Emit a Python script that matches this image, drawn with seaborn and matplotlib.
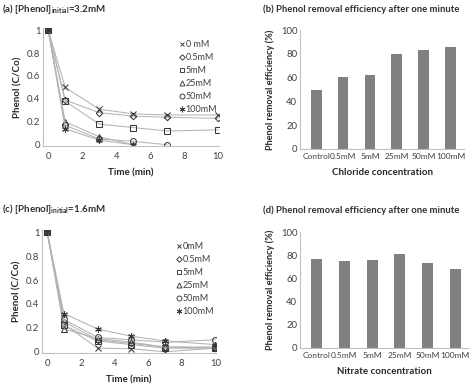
import numpy as np
import pandas as pd
import matplotlib
matplotlib.use("Agg")
import matplotlib.pyplot as plt
import seaborn as sns
from matplotlib.ticker import FuncFormatter
from matplotlib.lines import Line2D

sns.set_theme(style="white")
plt.rcParams['font.family'] = ['Lato', 'DejaVu Sans']

time = [0, 1, 3, 5, 7, 10]
labels_a = ["0 mM", "0.5mM", "5mM", "25mM", "50mM", "100mM"]
labels_c = ["0mM", "0.5mM", "5mM", "25mM", "50mM", "100mM"]
nan = np.nan
series_a = [
    [1, 0.50, 0.31, 0.27, 0.26, 0.26],
    [1, 0.39, 0.28, 0.25, 0.24, 0.23],
    [1, 0.38, 0.18, 0.15, 0.12, 0.13],
    [1, 0.20, 0.07, 0.00, nan, nan],
    [1, 0.17, 0.05, 0.03, 0.00, nan],
    [1, 0.14, 0.04, 0.00, nan, nan],
]
series_c = [
    [1, 0.23, 0.03, 0.025, 0.00, 0.03],
    [1, 0.25, 0.10, 0.07, 0.04, 0.03],
    [1, 0.22, 0.09, 0.06, 0.03, 0.03],
    [1, 0.19, 0.11, 0.08, 0.04, 0.04],
    [1, 0.27, 0.12, 0.10, 0.08, 0.10],
    [1, 0.32, 0.19, 0.13, 0.09, 0.06],
]
categories = ["Control", "0.5mM", "5mM", "25mM", "50mM", "100mM"]
chloride = [50, 61, 62, 80, 83, 86]
nitrate = [77, 75, 76, 81, 73, 68]

markers = ['x', 'D', 's', '^', 'o', (6, 2, 0)]
msizes = [4.2, 3.3, 4.2, 4.2, 4.2, 4.8]

fig = plt.figure(figsize=(4.74, 3.87), dpi=100)

def style_axes(ax):
    for s in ['top', 'right']:
        ax.spines[s].set_visible(False)
    for s in ['left', 'bottom']:
        ax.spines[s].set_color('#bfbfbf')
        ax.spines[s].set_linewidth(0.8)
    ax.tick_params(axis='both', labelsize=6.8, colors='#404040', length=2.5,
                   width=0.6, pad=2, direction='out')
    ax.tick_params(axis='y', length=0)

def line_panel(rect, series, labels, title, title_y):
    ax = fig.add_axes(rect)
    proxies = []
    for vals, lab, m, ms in zip(series, labels, markers, msizes):
        df = pd.DataFrame({'t': time, 'v': vals}).dropna()
        fc = '#303030' if m == (6, 2, 0) else 'none'
        sns.lineplot(data=df, x='t', y='v', ax=ax, color='#b3b3b3', lw=0.75,
                     marker=m, markersize=ms, markerfacecolor=fc,
                     markeredgecolor='#383838', markeredgewidth=0.75)
        proxies.append(Line2D([], [], linestyle='none', marker=m,
                              markersize=ms * 0.85, markerfacecolor=fc,
                              markeredgecolor='#404040', markeredgewidth=0.7))
    ax.set_xlim(-0.3, 10.05)
    ax.set_ylim(-0.01, 1.02)
    ax.set_xticks([0, 2, 4, 6, 8, 10])
    ax.set_yticks([0, 0.2, 0.4, 0.6, 0.8, 1])
    ax.yaxis.set_major_formatter(FuncFormatter(lambda v, p: f"{v:g}"))
    ax.set_xlabel("Time (min)", fontsize=7, fontweight='bold', labelpad=5)
    ax.set_ylabel("Phenol (C/Co)", fontsize=7, fontweight='bold', labelpad=3)
    style_axes(ax)
    leg = ax.legend(proxies, labels, loc='upper right', bbox_to_anchor=(1.01, 0.93),
                    frameon=False, fontsize=6.5, handlelength=0.6,
                    handletextpad=0.1, labelspacing=0.45, borderaxespad=0)
    for t in leg.get_texts():
        t.set_color('#404040')
    fig.text(0.005, title_y, title, fontsize=7, fontweight='bold',
             color='#303030', va='center')
    return ax

def bar_panel(rect, values, xlabel, title, title_y):
    ax = fig.add_axes(rect)
    df = pd.DataFrame({'c': categories, 'v': values})
    sns.barplot(data=df, x='c', y='v', ax=ax, color='#808080', width=0.4,
                saturation=1, edgecolor='none')
    ax.set_ylim(0, 100)
    ax.set_yticks([0, 20, 40, 60, 80, 100])
    ax.set_xlim(-0.6, 5.5)
    ax.set_xlabel(xlabel, fontsize=7, fontweight='bold', labelpad=6)
    ax.set_ylabel("Phenol removal efficiency (%)", fontsize=6.6, fontweight='bold', labelpad=4)
    style_axes(ax)
    ax.tick_params(axis='x', length=0, pad=3, labelsize=6.0)
    fig.text(0.555, title_y, title, fontsize=6.8, fontweight='bold',
             color='#303030', va='center')
    return ax

line_panel([0.091, 0.623, 0.371, 0.305], series_a, labels_a,
           r"(a) [Phenol]$_{\mathregular{initial}}$=3.2mM", 0.978)
bar_panel([0.633, 0.615, 0.346, 0.307], chloride, "Chloride concentration",
          "(b) Phenol removal efficiency after one minute", 0.975)
line_panel([0.089, 0.088, 0.367, 0.318], series_c, labels_c,
           r"(c) [Phenol]$_{\mathregular{initial}}$=1.6mM", 0.46)
bar_panel([0.633, 0.101, 0.357, 0.299], nitrate, "Nitrate concentration",
          "(d) Phenol removal efficiency after one minute", 0.457)

fig.savefig("out.png", dpi=100)
